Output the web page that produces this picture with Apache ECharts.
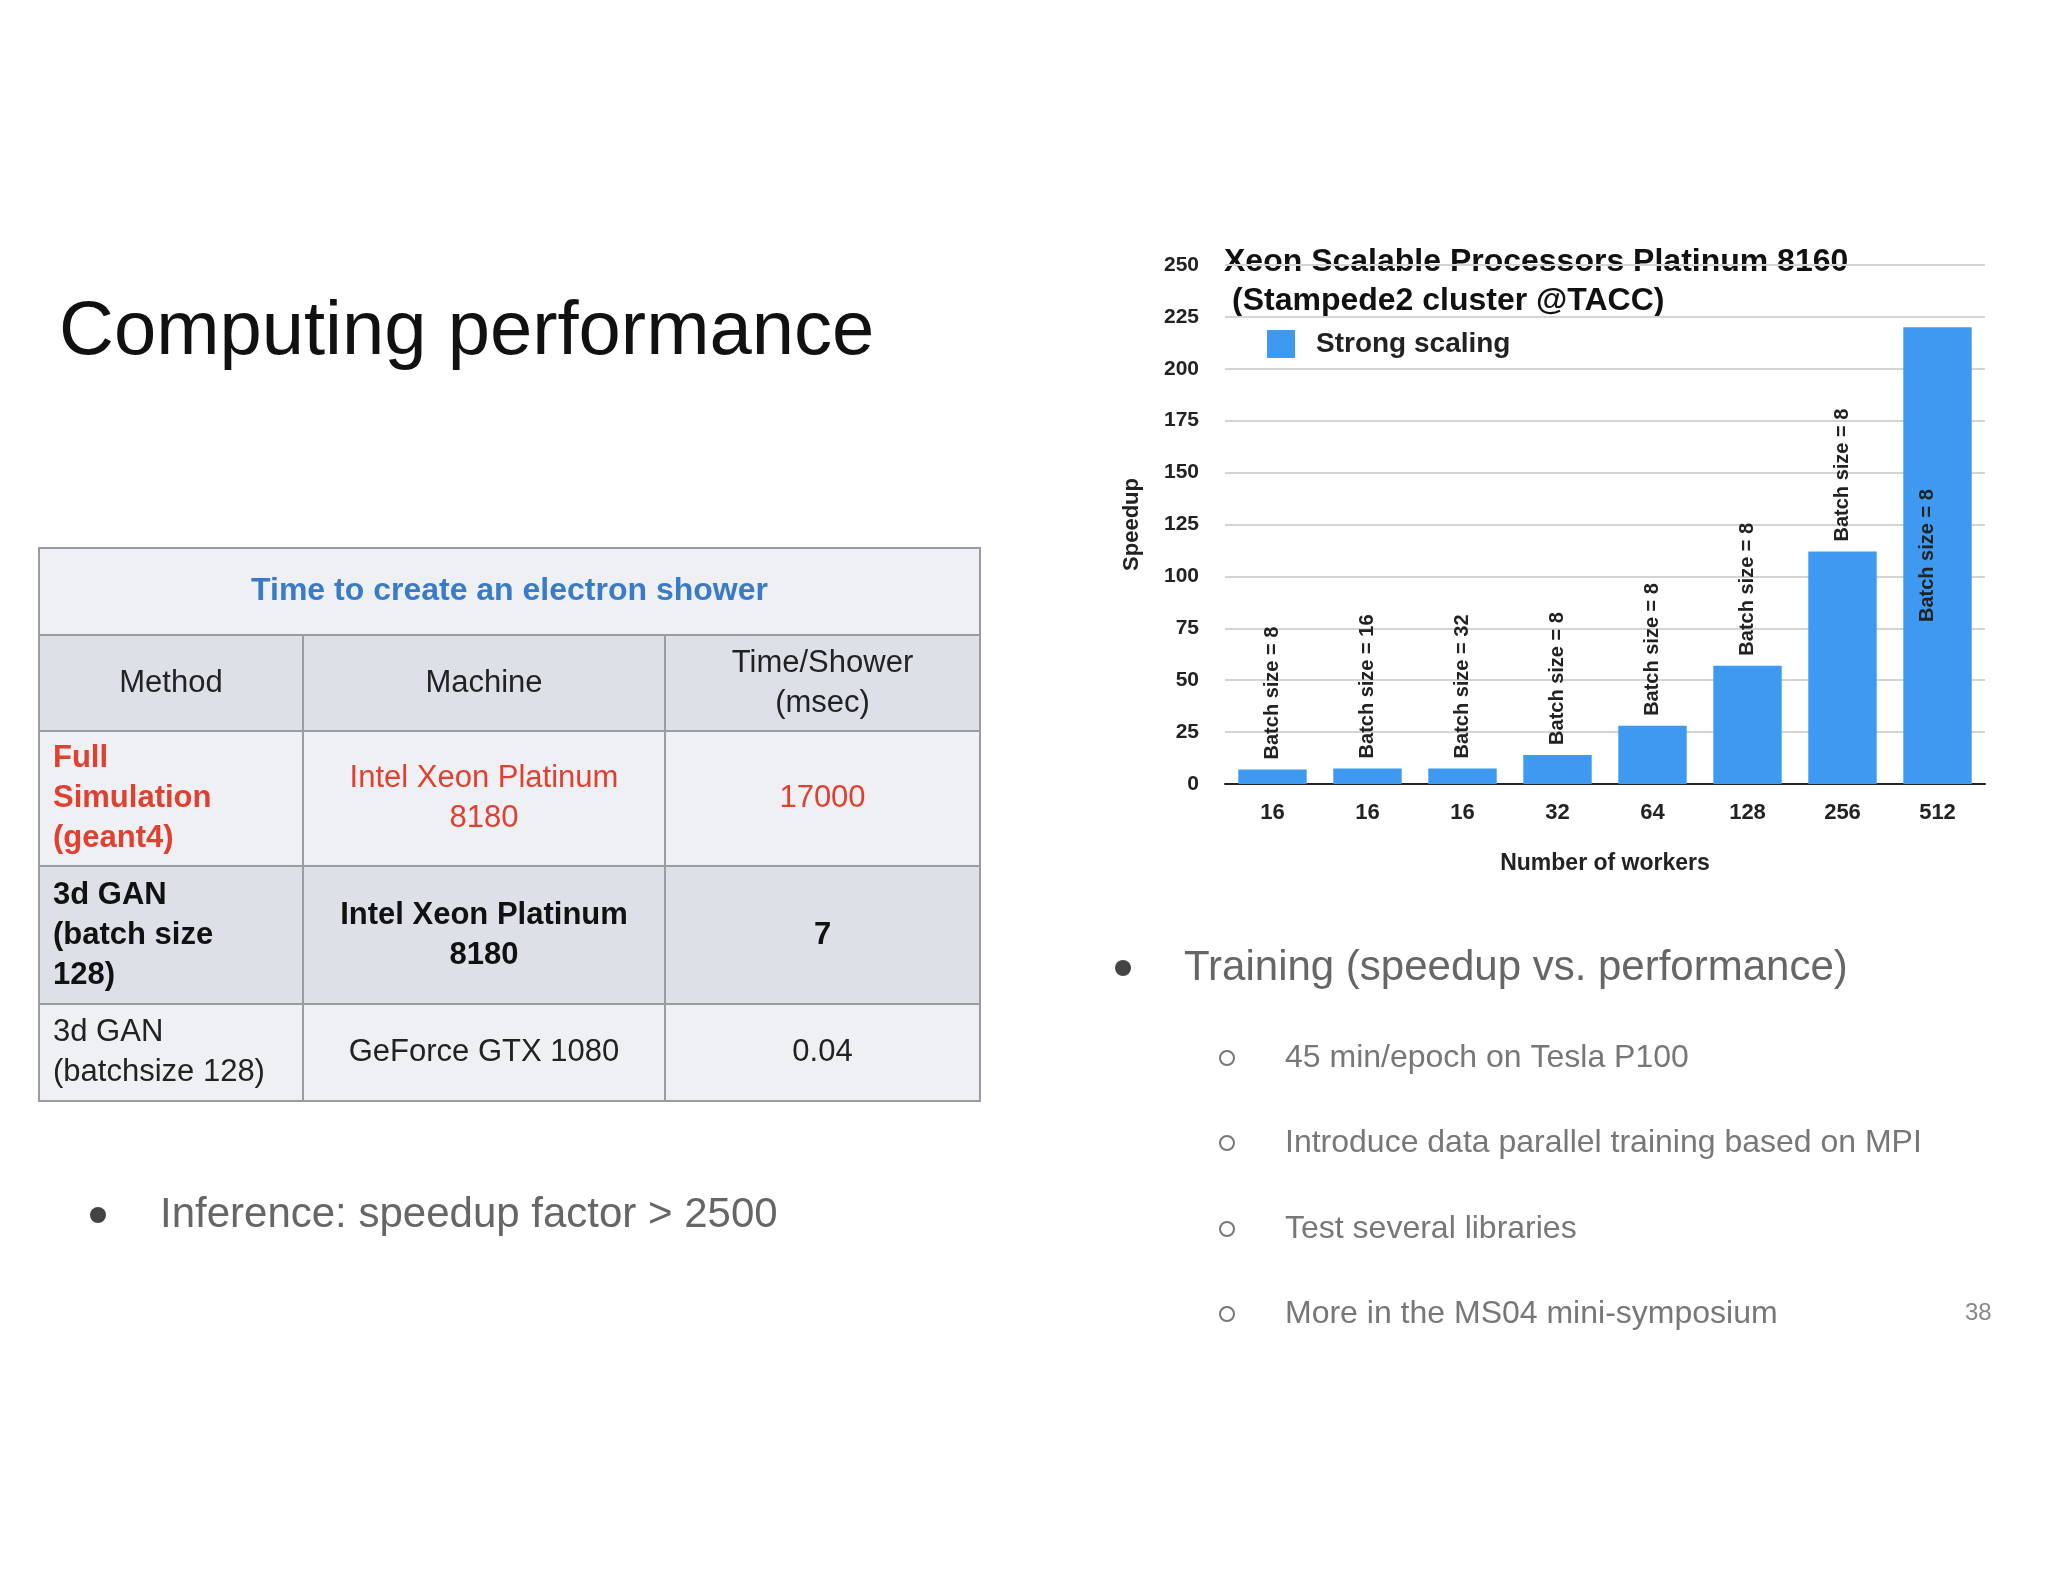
<!DOCTYPE html>
<html><head><meta charset="utf-8">
<script src="https://cdn.jsdelivr.net/npm/echarts@6/dist/echarts.min.js"></script>
<style>html,body{margin:0;background:#fff}#c{width:2048px;height:1582px}</style>
</head><body><div id="c"></div>
<script>
const categories = ['16','16','16','32','64','128','256','512'];
const speedup = [7, 7.5, 7.5, 14, 28, 57, 112, 220];
const batchLabels = ['Batch size = 8','Batch size = 16','Batch size = 32','Batch size = 8','Batch size = 8','Batch size = 8','Batch size = 8','Batch size = 8'];
const yTicks = [0,25,50,75,100,125,150,175,200,225,250];
const tableHeader = ['Method','Machine','Time/Shower\n(msec)'];
const tableRows = [
  ['Full\nSimulation\n(geant4)','Intel Xeon Platinum\n8180','17000'],
  ['3d GAN\n(batch size\n128)','Intel Xeon Platinum\n8180','7'],
  ['3d GAN\n(batchsize 128)','GeForce GTX 1080','0.04']
];
const bullets = ['45 min/epoch on Tesla P100','Introduce data parallel training based on MPI','Test several libraries','More in the MS04 mini-symposium'];

const F = 'Arial, "Liberation Sans", sans-serif';
const cols = [39,303,665,980];
const rows = [548,635,731,866,1004,1101];
const bg = ['#eef0f4','#dde0e6','#eef0f4','#dde0e6','#eef0f4'];
const g = [];
g.push({type:'text',left:59,top:295,style:{text:'Computing performance',font:'400 76px '+F,fill:'#111'}});
for(let r=0;r<5;r++){
  if(r===0){
    g.push({type:'rect',shape:{x:cols[0],y:rows[0],width:cols[3]-cols[0],height:rows[1]-rows[0]},style:{fill:bg[0],stroke:'#9a9ca0',lineWidth:2}});
    g.push({type:'text',x:(cols[0]+cols[3])/2,y:(rows[0]+rows[1])/2,style:{text:'Time to create an electron shower',font:'bold 32px '+F,fill:'#3a7bc8',textAlign:'center',textVerticalAlign:'middle'}});
    continue;
  }
  const data = r===1?tableHeader:tableRows[r-2];
  for(let c=0;c<3;c++){
    g.push({type:'rect',shape:{x:cols[c],y:rows[r],width:cols[c+1]-cols[c],height:rows[r+1]-rows[r]},style:{fill:bg[r],stroke:'#9a9ca0',lineWidth:2}});
    let color='#222', weight='400';
    if(r===2){color='#e0402f'; if(c===0) weight='bold';}
    if(r===3){weight='bold';color='#111';}
    const left = (c===0 && r>=2);
    g.push({type:'text',x:left?cols[c]+14:(cols[c]+cols[c+1])/2,y:(rows[r]+rows[r+1])/2,style:{text:data[c],font:weight+' 31px '+F,fill:color,textAlign:left?'left':'center',textVerticalAlign:'middle',lineHeight:40}});
  }
}
g.push({type:'circle',shape:{cx:98,cy:1215,r:8},style:{fill:'#444'}});
g.push({type:'text',x:160,y:1215,style:{text:'Inference: speedup factor > 2500',font:'400 42px '+F,fill:'#666',textVerticalAlign:'middle'}});
g.push({type:'circle',shape:{cx:1123,cy:968,r:8},style:{fill:'#444'}});
g.push({type:'text',x:1184,y:968,style:{text:'Training (speedup vs. performance)',font:'400 42px '+F,fill:'#666',textVerticalAlign:'middle'}});
const by=[1058,1143,1229,1314];
bullets.forEach((b,i)=>{
  g.push({type:'circle',shape:{cx:1227,cy:by[i],r:7},style:{fill:'none',stroke:'#777',lineWidth:2}});
  g.push({type:'text',x:1285,y:by[i],style:{text:b,font:'400 32px '+F,fill:'#777',textVerticalAlign:'middle'}});
});
g.push({type:'text',x:1965,y:1313,style:{text:'38',font:'400 24px '+F,fill:'#888',textVerticalAlign:'middle'}});
g.push({type:'text',left:1224,top:246,style:{text:'Xeon Scalable Processors Platinum 8160',font:'bold 32px '+F,fill:'#111'}});
g.push({type:'text',left:1232,top:285,style:{text:'(Stampede2 cluster @TACC)',font:'bold 32px '+F,fill:'#111'}});
g.push({type:'rect',shape:{x:1267,y:330,width:28,height:28},style:{fill:'#3d9af0'}});
g.push({type:'text',left:1316,top:330,style:{text:'Strong scaling',font:'bold 28px '+F,fill:'#222'}});

const chart = echarts.init(document.getElementById('c'));
chart.setOption({
  backgroundColor:'#fff',
  animation:false,
  grid:{left:1225,right:63,top:265,bottom:798,containLabel:false},
  xAxis:{type:'category',data:categories,axisLine:{lineStyle:{color:'#222',width:2}},axisTick:{show:false},
    axisLabel:{fontFamily:F,fontWeight:'bold',fontSize:22,color:'#222',margin:18},
    name:'Number of workers',nameLocation:'middle',nameGap:68,nameTextStyle:{fontFamily:F,fontWeight:'bold',fontSize:23,color:'#222'}},
  yAxis:{type:'value',min:0,max:250,interval:25,axisLine:{show:false},axisTick:{show:false},
    splitLine:{lineStyle:{color:'#d4d4d4',width:2}},
    axisLabel:{fontFamily:F,fontWeight:'bold',fontSize:21,color:'#222',margin:26},
    name:'Speedup',nameLocation:'middle',nameGap:82,nameTextStyle:{fontFamily:F,fontWeight:'bold',fontSize:22,color:'#222'}},
  series:[{type:'bar',barCategoryGap:'28%',itemStyle:{color:'#3d9af0'},
    data:speedup.map((v,i)=>({value:v,label:i===7?{position:'inside',rotate:90,align:'center',verticalAlign:'middle',offset:[0,-10]}:{}})),
    label:{show:true,position:'top',rotate:90,align:'left',verticalAlign:'middle',distance:10,
      formatter:p=>batchLabels[p.dataIndex],fontFamily:F,fontWeight:'bold',fontSize:20,color:'#222'}}],
  graphic:g
});
</script></body></html>
